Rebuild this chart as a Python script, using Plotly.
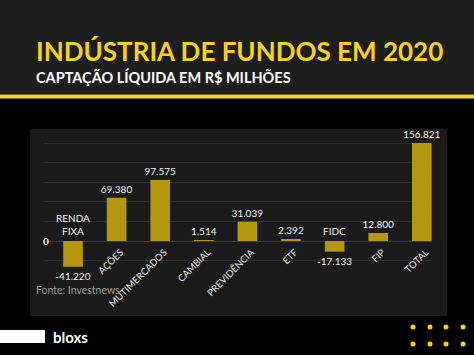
import plotly.graph_objects as go

# ---- data ----
categories = ["RENDA FIXA", "AÇÕES", "MUTIMERCADOS", "CAMBIAL", "PREVIDÊNCIA",
              "ETF", "FIDC", "FIP", "TOTAL"]
values = [-41220, 69380, 97575, 1514, 31039, 2392, -17133, 12800, 156821]

title_text = "INDÚSTRIA DE FUNDOS EM 2020"
subtitle_text = "CAPTAÇÃO LÍQUIDA EM R$ MILHÕES"
source_text = "Fonte: Investnews"

# ---- layout geometry (pixels) ----
W, H = 474, 355
PL, PR, PT, PB = 44, 432, 141, 271   # plot area
ZERO_PX = 241
TOP_PX = 143
vmax = max(values)
upp = vmax / (ZERO_PX - TOP_PX)      # units per pixel
y_range = [-(PB - ZERO_PX) * upp, (ZERO_PX - PT) * upp]
slot = 43.6
x_range = [-(73 - PL) / slot, (PR - 73) / slot]


def px(x):
    return (x - PL) / (PR - PL)


def py(y):
    return (PB - y) / (PB - PT)


FONT = "Lato"
BAR = "#b4960f"
YELLOW = "#f6d21c"

idx = list(range(len(categories)))
neg = [i for i, v in enumerate(values) if v < 0]
ticktext = ["" if values[i] < 0 else categories[i] for i in idx]

fig = go.Figure()
fig.add_trace(go.Bar(
    x=idx, y=values, width=0.45,
    marker=dict(color=BAR, line=dict(width=0)),
    texttemplate="%{y:,.0f}", textposition="outside", constraintext="none",
    textfont=dict(family=FONT, size=10, color="#f0f0f0"),
    cliponaxis=False, hoverinfo="skip",
))

step = vmax / 5
grid_vals = [k * step for k in range(-1, 6)]

shapes = [
    dict(type="rect", xref="paper", yref="paper", x0=px(0), x1=px(W), y0=py(0), y1=py(94),
         fillcolor="#1d1d1d", line=dict(width=0), layer="below"),
    dict(type="rect", xref="paper", yref="paper", x0=px(0), x1=px(W), y0=py(94.5), y1=py(98.5),
         fillcolor=YELLOW, line=dict(width=0), layer="below"),
    dict(type="rect", xref="paper", yref="paper", x0=px(30), x1=px(447), y0=py(129), y1=py(316),
         fillcolor="#1a1a1a", line=dict(width=0), layer="below"),
    dict(type="rect", xref="paper", yref="paper", x0=px(0), x1=px(45), y0=py(330), y1=py(343),
         fillcolor="#ffffff", line=dict(width=0), layer="above"),
]
for cx in [413, 430, 446, 463]:
    for cy in [327, 344]:
        shapes.append(dict(type="circle", xref="paper", yref="paper",
                           x0=px(cx - 2.5), x1=px(cx + 2.5), y0=py(cy - 2.5), y1=py(cy + 2.5),
                           fillcolor=YELLOW, line=dict(width=0), layer="above"))

annotations = [
    dict(text="<b>" + title_text + "</b>", xref="paper", yref="paper", x=px(34), y=py(51),
         xanchor="left", yanchor="middle", showarrow=False,
         font=dict(family=FONT, size=26, color=YELLOW)),
    dict(text="<b>" + subtitle_text + "</b>", xref="paper", yref="paper", x=px(34), y=py(77),
         xanchor="left", yanchor="middle", showarrow=False,
         font=dict(family=FONT, size=14.5, color="#ffffff")),
    dict(text="<b>0</b>", xref="paper", yref="y", x=px(46), y=0,
         xanchor="center", yanchor="middle", showarrow=False,
         font=dict(family=FONT, size=10, color="#ffffff")),
    dict(text=source_text, xref="paper", yref="paper", x=px(34), y=py(290),
         xanchor="left", yanchor="middle", showarrow=False,
         font=dict(family=FONT, size=10.5, color="#9a9a9a")),
    dict(text="<b>bloxs</b>", xref="paper", yref="paper", x=px(51), y=py(337),
         xanchor="left", yanchor="middle", showarrow=False,
         font=dict(family=FONT, size=15, color="#ffffff")),
]
for i in neg:
    annotations.append(dict(
        text=categories[i].replace(" ", "<br>"), x=i, y=0, xref="x", yref="y",
        xanchor="center", yanchor="bottom", yshift=2, showarrow=False,
        font=dict(family=FONT, size=10, color="#f0f0f0")))

fig.update_layout(
    width=W, height=H,
    margin=dict(l=PL, r=W - PR, t=PT, b=H - PB, pad=0),
    paper_bgcolor="#000000", plot_bgcolor="rgba(0,0,0,0)",
    separators=",.",
    showlegend=False, bargap=0.5,
    shapes=shapes, annotations=annotations,
    xaxis=dict(range=x_range, tickvals=idx, ticktext=ticktext, tickangle=-45,
               anchor="free", position=(0 - y_range[0]) / (y_range[1] - y_range[0]),
               showgrid=False, zeroline=False, showline=False, ticks="",
               ticklabelstandoff=3, ticklabelshift=4,
               tickfont=dict(family=FONT, size=9.5, color="#e8e8e8")),
    yaxis=dict(range=y_range, tickvals=grid_vals, ticktext=["" for _ in grid_vals],
               showgrid=True, gridcolor="#2e2e2e", gridwidth=1,
               zeroline=True, zerolinecolor="#3a3a3a", zerolinewidth=1,
               showline=False, ticks=""),
)

fig.write_html("out.html", config={"displayModeBar": False},
               post_script="document.body.style.margin='0';document.body.style.background='#000';")
